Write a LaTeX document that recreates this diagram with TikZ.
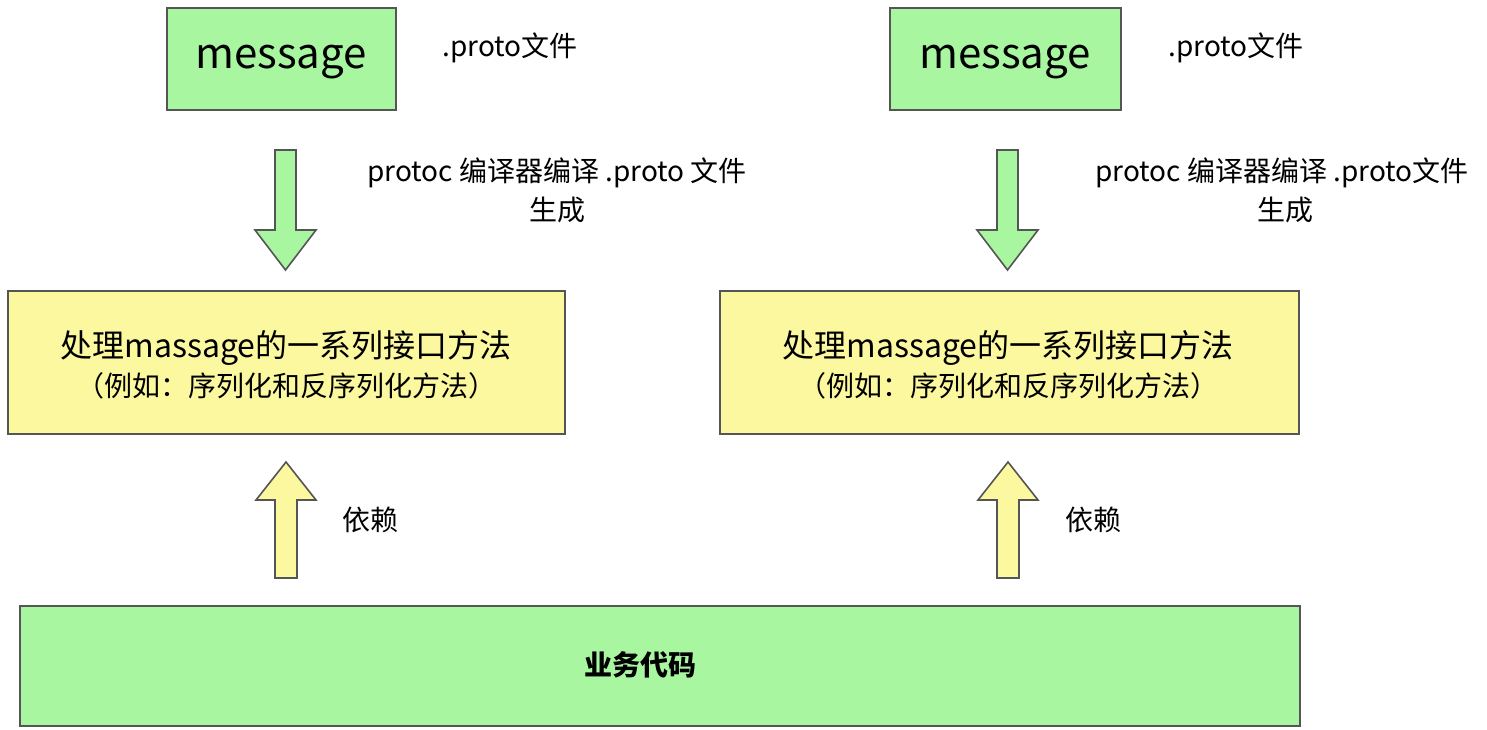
\documentclass[tikz,border=0pt]{standalone}
\usepackage{fontspec}
\setmainfont{Noto Sans CJK SC}
\definecolor{gfill}{HTML}{A8F7A0}
\definecolor{yfill}{HTML}{FBF8A0}
\definecolor{bord}{HTML}{555555}
\begin{document}
\begin{tikzpicture}[x=0.5pt,y=-0.5pt,
  box/.style={draw=bord,line width=0.8pt,inner sep=0pt},
  lbl/.style={font=\fontsize{14}{16}\selectfont,inner sep=0pt}]
\useasboundingbox[fill=white] (0,0) rectangle (1487,729);
% left
\draw[box,fill=gfill] (167,8) rectangle (396,110);
\node[inner sep=0pt,font=\fontsize{21}{24}\selectfont] (m1) at (281,62) {message};
\node[lbl] (p1) at (510,48) {.proto文件};
\draw[box,fill=gfill] (275,150)--(296,150)--(296,230)--(316,230)--(285.5,270)--(255,230)--(275,230)--cycle;
\node[lbl] (c1) at (557,173) {protoc 编译器编译 .proto 文件};
\node[lbl] (g1) at (557,210) {生成};
\draw[box,fill=yfill] (8,291) rectangle (565,434);
\node[lbl,font=\fontsize{16}{18}\selectfont] (y1) at (286,348) {处理massage的一系列接口方法};
\node[lbl] (z1) at (286,386) {（例如：序列化和反序列化方法）};
\draw[box,fill=yfill] (275,578)--(297,578)--(297,500)--(316,500)--(286,462)--(256,500)--(275,500)--cycle;
\node[lbl] (d1) at (370,520) {依赖};
% right
\draw[box,fill=gfill] (890,8) rectangle (1121,110);
\node[inner sep=0pt,font=\fontsize{21}{24}\selectfont] (m2) at (1005,62) {message};
\node[lbl] (p2) at (1236,48) {.proto文件};
\draw[box,fill=gfill] (997,150)--(1018,150)--(1018,230)--(1038,230)--(1007.5,270)--(977,230)--(997,230)--cycle;
\node[lbl] (c2) at (1282,173) {protoc 编译器编译 .proto文件};
\node[lbl] (g2) at (1285,210) {生成};
\draw[box,fill=yfill] (720,291) rectangle (1299,434);
\node[lbl,font=\fontsize{16}{18}\selectfont] (y2) at (1008,348) {处理massage的一系列接口方法};
\node[lbl] (z2) at (1008,386) {（例如：序列化和反序列化方法）};
\draw[box,fill=yfill] (997,578)--(1019,578)--(1019,500)--(1038,500)--(1008,462)--(978,500)--(997,500)--cycle;
\node[lbl] (d2) at (1093,520) {依赖};
% bottom
\draw[box,fill=gfill] (20,606) rectangle (1300,726);
\node[lbl,font=\fontsize{14}{16}\selectfont\bfseries] (b) at (640,665) {业务代码};
\end{tikzpicture}
\end{document}
